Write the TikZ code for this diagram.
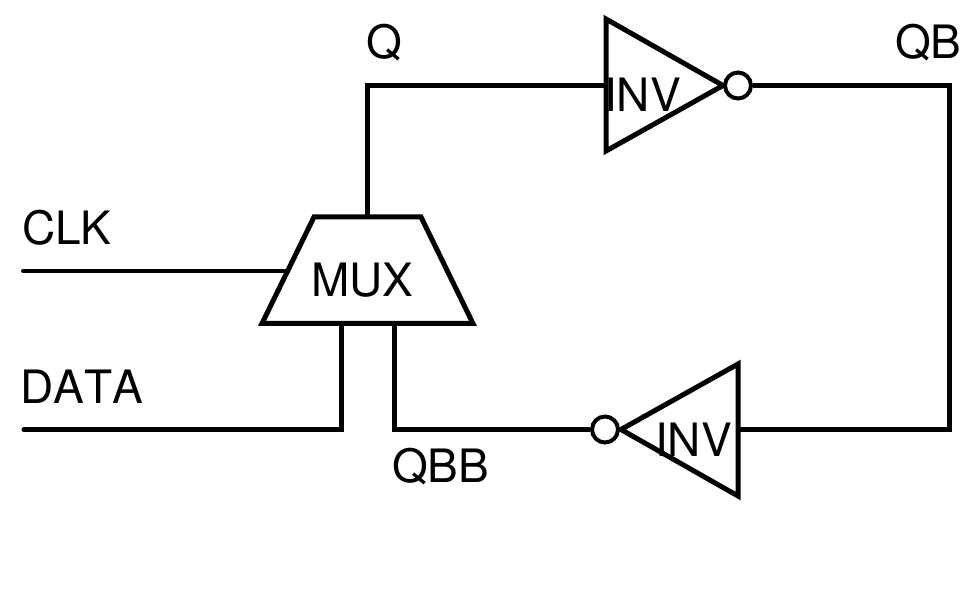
\documentclass[tikz,border=0pt]{standalone}
\usepackage{fontspec}
\setmainfont[Kerning=Off]{TeX Gyre Heros}
\usetikzlibrary{calc}

\tikzset{
    wire/.style={line width=5pt, line cap=butt, line join=miter},
    thinwire/.style={line width=4pt, line cap=round},
    lbl/.style={inner sep=0pt, anchor=base west, font=\fontsize{46}{50}\selectfont},
    bubble/.style={circle, draw, fill=white, line width=4pt, minimum size=26pt, inner sep=0pt}
}

\begin{document}
\begin{tikzpicture}[x=1pt,y=-1pt]
    \useasboundingbox (0,0) rectangle (970,604);

    % Define points of the mux
    \coordinate (M1) at (314,217);
    \coordinate (M2) at (421,217);
    \coordinate (M3) at (473,323.5);
    \coordinate (M4) at (262,323.5);
    % Top inverter
    \coordinate (T1) at (606,19);
    \coordinate (T2) at (606,151);
    \coordinate (T3) at (723,85.5);
    % Bottom inverter
    \coordinate (B1) at (738,364);
    \coordinate (B2) at (738,496);
    \coordinate (B3) at (621,429.5);

    % Free ends of the wires
    \coordinate (clkin) at (23,271);
    \coordinate (clkout) at (288,271);
    \coordinate (datain) at (24,429.5);
    \coordinate (muxd) at (341,323);
    \coordinate (muxq) at (367,217);
    \coordinate (muxb) at (394,323);
    \coordinate (invTin) at (606,85.5);
    \coordinate (invBout) at (738,429.5);
    \coordinate (corner) at (949.5,85.5);

    % Draw shapes
    \draw[wire] (M1) -- (M2) -- (M3) -- (M4) -- cycle;
    \draw[wire] (T1) -- (T3) -- (T2) -- cycle;
    \draw[wire] (B1) -- (B3) -- (B2) -- cycle;
    \node[bubble] (bubT) at (738,85.5) {};
    \node[bubble] (bubB) at (605,429.5) {};

    % Draw wires
    \draw[thinwire] (clkin) -- (clkout);
    \draw[wire] (datain) -| (muxd);
    \fill (datain) circle (2.5pt);
    \draw[wire] (muxq) |- (invTin);
    \draw[wire] (bubT) -- (corner) |- (invBout);
    \draw[wire] (bubB) -| (muxb);

    % Labels
    \node[lbl] (lq) at (366,59) {Q};
    \node[lbl] (lqb) at (895,59) {QB};
    \node[lbl] (lclk) at (22,245) {CLK};
    \node[lbl] (ldata) at (20,403) {DATA};
    \node[lbl] (lqbb) at (392,482) {QBB};
    \node[lbl] (lmux) at (311,297) {MUX};
    \node[lbl] (linvt) at (604,112) {INV};
    \node[lbl] (linvb) at (655,456.5) {INV};
\end{tikzpicture}
\end{document}
